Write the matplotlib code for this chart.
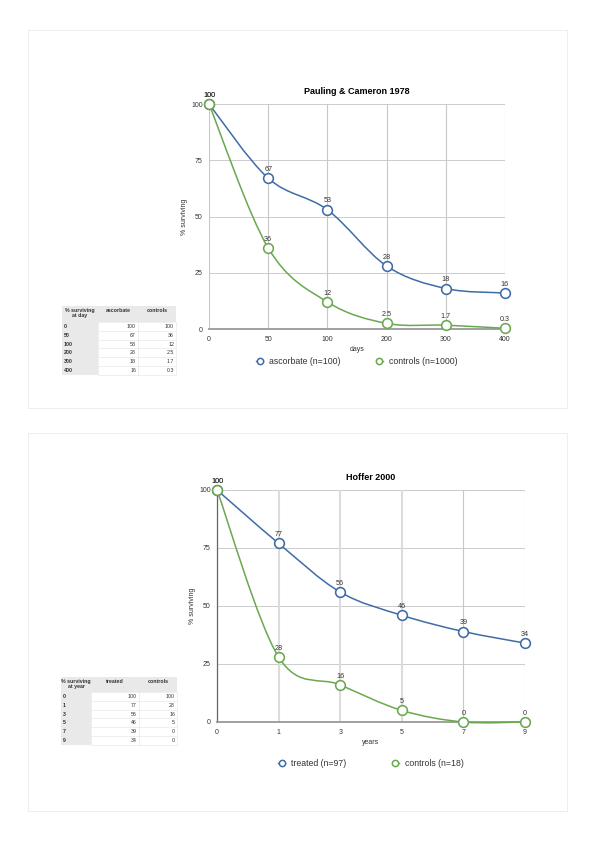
import matplotlib
matplotlib.use("Agg")
import matplotlib.pyplot as plt
from matplotlib.path import Path
from matplotlib.patches import PathPatch, Rectangle
from matplotlib.lines import Line2D

plt.rcParams['font.family'] = ['Liberation Sans', 'DejaVu Sans']

# Pauling & Cameron 1978
pc_days = ['0', '50', '100', '200', '300', '400']
pc_ascorbate = [100, 67, 53, 28, 18, 16]
pc_controls = [100, 36, 12, 2.5, 1.7, 0.3]

# Hoffer 2000
h_years = ['0', '1', '3', '5', '7', '9']
h_treated = [100, 77, 56, 46, 39, 34]
h_controls = [100, 28, 16, 5, 0, 0]

BLUE = '#3f6ca6'
GREEN = '#6aa84f'
TXT = '#333333'


def fmt(v):
    return ('%g' % v)


def smooth_path(xs, ys):
    # catmull-rom curve through the points, as cubic bezier segments
    pts = list(zip(xs, ys))
    n = len(pts)
    verts = [pts[0]]
    codes = [Path.MOVETO]
    for i in range(n - 1):
        p0 = pts[max(i - 1, 0)]
        p1 = pts[i]
        p2 = pts[i + 1]
        p3 = pts[min(i + 2, n - 1)]
        c1 = (p1[0] + (p2[0] - p0[0]) / 6, p1[1] + (p2[1] - p0[1]) / 6)
        c2 = (p2[0] - (p3[0] - p1[0]) / 6, p2[1] - (p3[1] - p1[1]) / 6)
        verts += [c1, c2, p2]
        codes += [Path.CURVE4] * 3
    return Path(verts, codes)


def draw_chart(ax, cats, series, colors, names, title, xlabel, left_spine,
               legend_y, colspace, vgrid_style):
    xs = list(range(len(cats)))
    ax.set_xlim(0, len(cats) - 1)
    ax.set_ylim(0, 100)
    ax.set_xticks(xs)
    ax.set_xticklabels(cats)
    ax.set_yticks([0, 25, 50, 75, 100])
    ax.tick_params(length=0, labelsize=5, colors=TXT)
    ax.tick_params(axis='y', pad=4.5)
    ax.tick_params(axis='x', pad=5)
    for s in ['top', 'right']:
        ax.spines[s].set_visible(False)
    ax.spines['bottom'].set_color('#999999')
    ax.spines['bottom'].set_linewidth(1.3)
    if left_spine:
        ax.spines['left'].set_color('#666666')
        ax.spines['left'].set_linewidth(0.9)
    else:
        ax.spines['left'].set_visible(False)
    for y in [25, 50, 75, 100]:
        ax.axhline(y, color='#cccccc', lw=0.7, zorder=0)
    for x in xs:
        col, lw = vgrid_style(x)
        ax.axvline(x, color=col, lw=lw, zorder=0)
    handles = []
    for vals, col, name in zip(series, colors, names):
        ax.add_patch(PathPatch(smooth_path(xs, vals), fill=False, edgecolor=col,
                               lw=1.1, clip_on=False, zorder=3))
        ax.plot(xs, vals, ls='none', marker='o', ms=7, mfc='white', mec=col,
                mew=1.15, clip_on=False, zorder=4)
        for x, v in zip(xs, vals):
            ax.annotate(fmt(v), (x, v), xytext=(0, 3.8), textcoords='offset points',
                        ha='center', va='bottom', fontsize=5.2, color=TXT, zorder=5)
        handles.append(Line2D([], [], color=col, lw=1, marker='o', ms=4.5,
                              mfc='white', mec=col, mew=1.1))
    ax.set_title(title, fontsize=6.5, fontweight='bold', pad=7)
    ax.set_xlabel(xlabel, fontsize=5, color=TXT, labelpad=2)
    ax.set_ylabel('% surviving', fontsize=5, color=TXT, labelpad=2)
    ax.legend(handles, names, loc='center', bbox_to_anchor=(0.5, legend_y), ncol=2,
              frameon=False, fontsize=6.3, handlelength=0.8, handletextpad=0.7,
              columnspacing=colspace, labelcolor=TXT)


def draw_table(bg, x0, y0, col_w, head_h, row_h, head, cats, cols):
    # bg axes is in pixel coordinates (y downward)
    total_w = sum(col_w)
    n = len(cats)
    bg.add_patch(Rectangle((x0, y0), total_w, head_h, fc='#e9e9e9', ec='none'))
    bg.add_patch(Rectangle((x0, y0 + head_h), col_w[0], row_h * n, fc='#e9e9e9', ec='none'))
    for i in range(n + 1):
        yy = y0 + head_h + i * row_h
        bg.plot([x0 + col_w[0], x0 + total_w], [yy, yy], color='#e4e4e4', lw=0.4)
    for xx in [x0 + col_w[0], x0 + col_w[0] + col_w[1], x0 + total_w]:
        bg.plot([xx, xx], [y0 + head_h, y0 + head_h + n * row_h], color='#e4e4e4', lw=0.4)
    bg.text(x0 + col_w[0] / 2, y0 + 2, head[0], ha='center', va='top', fontsize=3.8,
            fontweight='bold', color=TXT, linespacing=1.1)
    bg.text(x0 + col_w[0] + col_w[1] / 2, y0 + 2, head[1], ha='center', va='top',
            fontsize=3.8, fontweight='bold', color=TXT)
    bg.text(x0 + col_w[0] + col_w[1] + col_w[2] / 2, y0 + 2, head[2], ha='center',
            va='top', fontsize=3.8, fontweight='bold', color=TXT)
    for i, c in enumerate(cats):
        yc = y0 + head_h + (i + 0.5) * row_h
        bg.text(x0 + 1.5, yc, c, ha='left', va='center', fontsize=3.8,
                fontweight='bold', color=TXT)
        bg.text(x0 + col_w[0] + col_w[1] - 2, yc, fmt(cols[0][i]), ha='right',
                va='center', fontsize=3.8, color=TXT)
        bg.text(x0 + total_w - 2, yc, fmt(cols[1][i]), ha='right', va='center',
                fontsize=3.8, color=TXT)


fig = plt.figure(figsize=(5.96, 8.42), dpi=100)
W, H = 596, 842

bg = fig.add_axes([0, 0, 1, 1])
bg.set_xlim(0, W)
bg.set_ylim(H, 0)
bg.axis('off')
bg.add_patch(Rectangle((28, 30), 539, 378, fc='white', ec='#ebebeb', lw=0.6))
bg.add_patch(Rectangle((28, 433), 539, 378, fc='white', ec='#ebebeb', lw=0.6))

ax1 = fig.add_axes([209 / W, 1 - 329 / H, 296 / W, 225 / H])
draw_chart(ax1, pc_days, [pc_ascorbate, pc_controls], [BLUE, GREEN],
           ['ascorbate (n=100)', 'controls (n=1000)'], 'Pauling & Cameron 1978',
           'days', False, -0.145, 4.0,
           lambda x: ('#c8c8c8', 0.8))

ax2 = fig.add_axes([217 / W, 1 - 722 / H, 308 / W, 232 / H])
draw_chart(ax2, h_years, [h_treated, h_controls], [BLUE, GREEN],
           ['treated (n=97)', 'controls (n=18)'], 'Hoffer 2000',
           'years', True, -0.178, 5.2,
           lambda x: ('#dcdcdc', 1.5) if x in (1, 2, 3) else ('#c8c8c8', 0.8))

draw_table(bg, 62, 306, [36, 40, 38], 16, 8.8,
           ['% surviving\nat day', 'ascorbate', 'controls'], pc_days,
           [pc_ascorbate, pc_controls])
draw_table(bg, 61, 677, [30, 48, 38], 15, 8.8,
           ['% surviving\nat year', 'treated', 'controls'], h_years,
           [h_treated, h_controls])

fig.savefig('out.png', dpi=100)
